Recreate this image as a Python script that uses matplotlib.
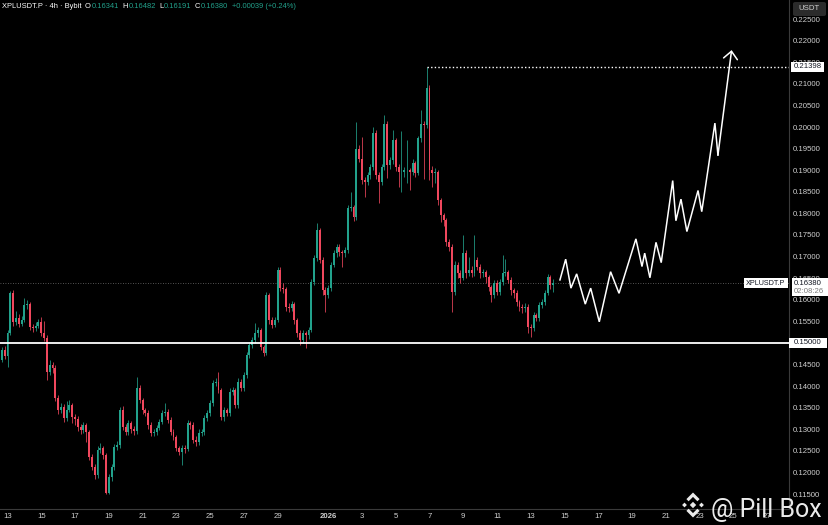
import numpy as np
import pandas as pd
import matplotlib
matplotlib.use("Agg")
import matplotlib.pyplot as plt
import matplotlib.dates as mdates
import matplotlib.transforms as mtransforms
from matplotlib.patches import Polygon, Rectangle, FancyBboxPatch

# ---------------- data ----------------
symbol = "XPLUSDT.P"
first_open = 0.1507
last_bar_time = "2026-01-14 08:00"
bar_freq = "4h"

closes = [
    0.1461, 0.1484, 0.1470, 0.1523, 0.1616, 0.1549, 0.1558, 0.1545, 0.1553, 0.1588,
    0.1590, 0.1537, 0.1535, 0.1540, 0.1549, 0.1523, 0.1512, 0.1433, 0.1449, 0.1442,
    0.1373, 0.1345, 0.1352, 0.1327, 0.1345, 0.1357, 0.1329, 0.1324, 0.1306, 0.1299,
    0.1310, 0.1294, 0.1237, 0.1214, 0.1195, 0.1253, 0.1257, 0.1240, 0.1153, 0.1190,
    0.1214, 0.1260, 0.1264, 0.1345, 0.1306, 0.1294, 0.1315, 0.1300, 0.1296, 0.1396,
    0.1368, 0.1345, 0.1338, 0.1311, 0.1292, 0.1294, 0.1304, 0.1318, 0.1338, 0.1341,
    0.1322, 0.1294, 0.1283, 0.1257, 0.1248, 0.1257, 0.1255, 0.1315, 0.1311, 0.1276,
    0.1271, 0.1292, 0.1294, 0.1327, 0.1338, 0.1361, 0.1408, 0.1410, 0.1391, 0.1329,
    0.1345, 0.1338, 0.1387, 0.1391, 0.1357, 0.1410, 0.1396, 0.1426, 0.1472, 0.1495,
    0.1507, 0.1523, 0.1530, 0.1491, 0.1477, 0.1611, 0.1553, 0.1542, 0.1553, 0.1669,
    0.1627, 0.1625, 0.1583, 0.1581, 0.1590, 0.1553, 0.1523, 0.1507, 0.1523, 0.1518,
    0.1530, 0.1641, 0.1696, 0.1761, 0.1692, 0.1622, 0.1611, 0.1627, 0.1680, 0.1708,
    0.1722, 0.1710, 0.1708, 0.1715, 0.1812, 0.1814, 0.1791, 0.1950, 0.1927, 0.1877,
    0.1872, 0.1888, 0.1907, 0.1985, 0.1888, 0.1872, 0.1907, 0.2008, 0.1911, 0.1923,
    0.1969, 0.1907, 0.1895, 0.1895, 0.1900, 0.1900, 0.1895, 0.1916,
    0.1893, 0.1974, 0.2008, 0.2004, 0.2091, 0.1900, 0.1893, 0.1895, 0.1830, 0.1796,
    0.1784, 0.1733, 0.1722, 0.1618, 0.1680, 0.1662, 0.1650, 0.1708, 0.1662, 0.1669,
    0.1662, 0.1692, 0.1676, 0.1661, 0.1664, 0.1652, 0.1629, 0.1611, 0.1639, 0.1618,
    0.1641, 0.1662, 0.1664, 0.1646, 0.1622, 0.1616, 0.1595, 0.1583, 0.1581, 0.1584,
    0.1537, 0.1535, 0.1565, 0.1558, 0.1588, 0.1595, 0.1616, 0.1652, 0.1634, 0.1638,
]

highs = [
    0.1515, 0.1490, 0.1492, 0.1530, 0.1620, 0.1622, 0.1575, 0.1566, 0.1562, 0.1604,
    0.1600, 0.1596, 0.1545, 0.1548, 0.1556, 0.1560, 0.1552, 0.1518, 0.1460, 0.1455,
    0.1448, 0.1380, 0.1362, 0.1358, 0.1366, 0.1368, 0.1362, 0.1336, 0.1330, 0.1312,
    0.1318, 0.1315, 0.1298, 0.1242, 0.1220, 0.1262, 0.1268, 0.1262, 0.1246, 0.1196,
    0.1220, 0.1266, 0.1272, 0.1352, 0.1355, 0.1312, 0.1322, 0.1320, 0.1308, 0.1421,
    0.1402, 0.1372, 0.1350, 0.1345, 0.1316, 0.1300, 0.1310, 0.1325, 0.1345, 0.1361,
    0.1348, 0.1328, 0.1300, 0.1288, 0.1262, 0.1264, 0.1265, 0.1322, 0.1320, 0.1316,
    0.1284, 0.1300, 0.1302, 0.1334, 0.1345, 0.1368, 0.1415, 0.1420, 0.1433, 0.1396,
    0.1352, 0.1350, 0.1395, 0.1398, 0.1396, 0.1418, 0.1416, 0.1432, 0.1480, 0.1502,
    0.1515, 0.1546, 0.1538, 0.1535, 0.1496, 0.1618, 0.1615, 0.1560, 0.1560, 0.1676,
    0.1675, 0.1640, 0.1630, 0.1592, 0.1598, 0.1595, 0.1558, 0.1530, 0.1530, 0.1528,
    0.1538, 0.1648, 0.1703, 0.1777, 0.1766, 0.1698, 0.1630, 0.1635, 0.1688, 0.1715,
    0.1730, 0.1728, 0.1716, 0.1722, 0.1820, 0.1849, 0.1820, 0.2011, 0.1958, 0.1976,
    0.1885, 0.1896, 0.1915, 0.1999, 0.1992, 0.1895, 0.1915, 0.2027, 0.2015, 0.1930,
    0.1992, 0.1975, 0.1915, 0.1990, 0.1908, 0.1970, 0.1906, 0.1925,
    0.1922, 0.1980, 0.2040, 0.2015, 0.21398, 0.2098, 0.1910, 0.1905, 0.1900, 0.1836,
    0.1802, 0.1790, 0.1740, 0.1728, 0.1690, 0.1688, 0.1670, 0.1749, 0.1715, 0.1700,
    0.1678, 0.1749, 0.1700, 0.1682, 0.1672, 0.1670, 0.1658, 0.1635, 0.1645, 0.1645,
    0.1648, 0.1703, 0.1695, 0.1670, 0.1652, 0.1628, 0.1622, 0.1600, 0.1590, 0.1592,
    0.1590, 0.1545, 0.1572, 0.1570, 0.1595, 0.1602, 0.1622, 0.1660, 0.1658, 0.16482,
]

lows = [
    0.1452, 0.1455, 0.1462, 0.1445, 0.1518, 0.1540, 0.1542, 0.1538, 0.1540, 0.1548,
    0.1578, 0.1530, 0.1526, 0.1528, 0.1534, 0.1516, 0.1505, 0.1415, 0.1425, 0.1430,
    0.1365, 0.1336, 0.1338, 0.1318, 0.1320, 0.1340, 0.1315, 0.1310, 0.1296, 0.1290,
    0.1292, 0.1270, 0.1228, 0.1205, 0.1185, 0.1188, 0.1245, 0.1232, 0.1150, 0.1150,
    0.1180, 0.1205, 0.1252, 0.1258, 0.1298, 0.1286, 0.1288, 0.1292, 0.1288, 0.1290,
    0.1360, 0.1335, 0.1330, 0.1302, 0.1284, 0.1285, 0.1288, 0.1298, 0.1312, 0.1330,
    0.1315, 0.1288, 0.1275, 0.1250, 0.1240, 0.1218, 0.1246, 0.1250, 0.1302, 0.1268,
    0.1262, 0.1265, 0.1285, 0.1288, 0.1320, 0.1332, 0.1355, 0.1400, 0.1385, 0.1322,
    0.1320, 0.1330, 0.1332, 0.1380, 0.1350, 0.1350, 0.1388, 0.1390, 0.1420, 0.1465,
    0.1488, 0.1500, 0.1515, 0.1484, 0.1470, 0.1472, 0.1545, 0.1535, 0.1536, 0.1548,
    0.1620, 0.1615, 0.1575, 0.1572, 0.1575, 0.1545, 0.1515, 0.1495, 0.1500, 0.1489,
    0.1510, 0.1525, 0.1635, 0.1690, 0.1685, 0.1612, 0.1572, 0.1605, 0.1620, 0.1675,
    0.1700, 0.1702, 0.1676, 0.1700, 0.1708, 0.1805, 0.1782, 0.1785, 0.1918, 0.1868,
    0.1837, 0.1865, 0.1880, 0.1900, 0.1880, 0.1823, 0.1865, 0.1900, 0.1881, 0.1902,
    0.1915, 0.1898, 0.1862, 0.1849, 0.1885, 0.1870, 0.1855, 0.1888,
    0.1885, 0.1888, 0.1965, 0.1880, 0.1998, 0.1877, 0.1860, 0.1870, 0.1820, 0.1780,
    0.1770, 0.1725, 0.1712, 0.1572, 0.1610, 0.1650, 0.1640, 0.1645, 0.1650, 0.1655,
    0.1652, 0.1655, 0.1668, 0.1650, 0.1652, 0.1640, 0.1620, 0.1595, 0.1605, 0.1610,
    0.1612, 0.1635, 0.1655, 0.1638, 0.1612, 0.1605, 0.1585, 0.1575, 0.1570, 0.1572,
    0.1523, 0.1514, 0.1528, 0.1550, 0.1550, 0.1580, 0.1588, 0.1610, 0.1625, 0.16191,
]

# hand-drawn projection (days after 2025-12-13, price)
path_day = [32.73, 33.07, 33.38, 33.72, 34.23, 34.55, 35.06, 35.73, 36.23, 37.23,
            37.59, 37.75, 38.06, 38.42, 38.73, 39.41, 39.60, 39.90, 40.25, 40.91,
            41.13, 41.91, 42.09, 42.90]
path_price = [0.1646, 0.1694, 0.1627, 0.1660, 0.1590, 0.1627, 0.1549, 0.1665, 0.1615, 0.1741,
              0.1677, 0.1708, 0.1651, 0.1733, 0.1686, 0.1876, 0.1783, 0.1833, 0.1758, 0.1853,
              0.1804, 0.2009, 0.1935, 0.2178]
path_origin = "2025-12-13"

support_level = 0.15
last_price = 0.16380
countdown = "02:08:26"

y_ticks = [0.115, 0.120, 0.125, 0.130, 0.135, 0.140, 0.145, 0.150, 0.155, 0.160, 0.165,
           0.170, 0.175, 0.180, 0.185, 0.190, 0.195, 0.200, 0.205, 0.210, 0.215, 0.220, 0.225]
y_tick_labels = ["0.11500", "0.12000", "0.12500", "0.13000", "0.13500", "0.14000", "0.14500",
                 "0.15000", "0.15500", "0.16000", "0.16500", "0.17000", "0.17500", "0.18000",
                 "0.18500", "0.19000", "0.19500", "0.20000", "0.20500", "0.21000", "0.21500",
                 "0.22000", "0.22500"]

date_ticks = ["2025-12-13", "2025-12-15", "2025-12-17", "2025-12-19", "2025-12-21", "2025-12-23",
              "2025-12-25", "2025-12-27", "2025-12-29", "2026-01-01", "2026-01-03", "2026-01-05",
              "2026-01-07", "2026-01-09", "2026-01-11", "2026-01-13", "2026-01-15", "2026-01-17",
              "2026-01-19", "2026-01-21", "2026-01-23", "2026-01-25", "2026-01-27"]
date_labels = ["13", "15", "17", "19", "21", "23", "25", "27", "29", "2026", "3", "5", "7", "9",
               "11", "13", "15", "17", "19", "21", "23", "25", "27"]
x_range = ("2025-12-12 13:20", "2026-01-28 07:12")
y_range = (0.11157, 0.22940)

header_parts = [("XPLUSDT.P · 4h · Bybit", "w"), ("O", "w"), ("0.16341", "g"), ("H", "w"),
                ("0.16482", "g"), ("L", "w"), ("0.16191", "g"), ("C", "w"), ("0.16380", "g"),
                ("+0.00039 (+0.24%)", "g")]
watermark = "@ Pill Box"

# ---------------- style ----------------
UP = "#22a28c"
DOWN = "#f0475d"
BG = "#000000"
AX_TXT = "#cfcfcf"
DARK = "#131722"
W, H = 829, 525
plt.rcParams["font.family"] = ["Liberation Sans", "DejaVu Sans"]
FS = 5.6

fig = plt.figure(figsize=(W / 100, H / 100), dpi=100, facecolor=BG)
ax_left, ax_bottom, ax_w, ax_h = 0, 16, 789, 509
ax = fig.add_axes([ax_left / W, ax_bottom / H, ax_w / W, ax_h / H], facecolor=BG)

def fpx(x, y):
    return x / W, 1 - y / H

# candles
closes_a = np.array(closes)
opens_a = np.r_[first_open, closes_a[:-1]]
highs_a = np.array(highs)
lows_a = np.array(lows)
times = pd.date_range(end=last_bar_time, periods=len(closes_a), freq=bar_freq)
xs = mdates.date2num(times.to_pydatetime())
up = closes_a >= opens_a
cols = np.where(up, UP, DOWN)
ax.vlines(xs, lows_a, highs_a, colors=cols, lw=0.55, zorder=2)
body = np.maximum(np.abs(closes_a - opens_a), 0.00012)
ax.bar(xs, body, bottom=np.minimum(opens_a, closes_a), width=0.115, color=cols,
       linewidth=0, zorder=3)

ax.set_xlim(mdates.date2num(pd.Timestamp(x_range[0])), mdates.date2num(pd.Timestamp(x_range[1])))
ax.set_ylim(*y_range)

# levels
ax.axhline(support_level, color="white", lw=1.3, zorder=4)
ax.axhline(last_price, color="#707070", lw=0.6, ls=(0, (1, 2)), zorder=1)
i_top = int(np.argmax(highs_a))
ax.hlines(highs_a[i_top], xs[i_top], ax.get_xlim()[1], colors="white", lw=1.0,
          linestyles=(0, (1, 1.6)), zorder=4)

# projection path
base = mdates.date2num(pd.Timestamp(path_origin))
pxs = base + np.array(path_day)
pys = np.array(path_price)
ax.plot(pxs[:-1], pys[:-1], color="white", lw=1.1, solid_joinstyle="miter", zorder=5)
ax.annotate("", xy=(pxs[-1], pys[-1]), xytext=(pxs[-2], pys[-2]),
            arrowprops=dict(arrowstyle="->,head_length=0.55,head_width=0.5", color="white",
                            lw=1.1, shrinkA=0, shrinkB=0), zorder=5)

# axes styling
for s in ["top", "left"]:
    ax.spines[s].set_visible(False)
for s in ["right", "bottom"]:
    ax.spines[s].set_color("#3a3a3a")
    ax.spines[s].set_linewidth(0.8)
ax.yaxis.tick_right()
ax.set_yticks(y_ticks)
ax.set_yticklabels(y_tick_labels)
ax.tick_params(axis="y", length=0, pad=3, labelsize=FS, labelcolor=AX_TXT)
ax.set_xticks(mdates.date2num(pd.to_datetime(date_ticks).to_pydatetime()))
ax.set_xticklabels(date_labels)
ax.tick_params(axis="x", length=0, pad=3, labelsize=FS, labelcolor=AX_TXT)
for lab in ax.get_xticklabels():
    if lab.get_text() == "2026":
        lab.set_fontweight("bold")

# right-axis price labels
blend = mtransforms.blended_transform_factory(ax.transAxes, ax.transData)
ppu = ax_h / (y_range[1] - y_range[0])  # pixels per price unit

def price_box(x0, x1, yv, hpx, fc, yshift=0.0):
    h = hpx / ppu
    r = Rectangle((x0 / ax_w, yv - h / 2 - yshift / ppu), (x1 - x0) / ax_w, h, transform=blend,
                  facecolor=fc, edgecolor="none", clip_on=False, zorder=20)
    ax.add_patch(r)

def box_text(txt, x0, yv, color, dy=0.0, ha="left", fs=FS):
    ax.annotate(txt, xy=(x0 / ax_w, yv), xycoords=blend, xytext=(0, -dy),
                textcoords="offset pixels", ha=ha, va="center", fontsize=fs, color=color,
                annotation_clip=False, zorder=21)

ath = float(highs_a[i_top])
price_box(791, 824, ath, 10, "white")
box_text(f"{ath:.5f}", 793.5, ath, DARK)

price_box(789, 827, support_level, 10, "white")
box_text(f"{support_level:.5f}", 793.5, support_level, DARK)

price_box(792, 828, last_price, 18, "white", yshift=3.5)
box_text(f"{last_price:.5f}", 794, last_price, DARK)
box_text(countdown, 794, last_price, "#7a7a7a", dy=8.5)

price_box(744, 788, last_price, 10, "white")
box_text(symbol, 766, last_price, DARK, ha="center", fs=5.2)

# USDT box
ub = FancyBboxPatch(fpx(793, 16), 33 / W, 14 / H, boxstyle="round,pad=0,rounding_size=0.003",
                    transform=fig.transFigure, facecolor="#2b2b2b", edgecolor="none", zorder=30)
fig.add_artist(ub)
fig.text(*fpx(809.5, 9), "USDT", fontsize=FS, color=AX_TXT, ha="center", va="center", zorder=31)

# header (pieces chained by measured width)
renderer = fig.canvas.get_renderer()
hx = 2.0
for txt, c in header_parts:
    t = fig.text(*fpx(hx, 7), txt, fontsize=5.4, color="white" if c == "w" else UP,
                 ha="left", va="center", zorder=31)
    bb = t.get_window_extent(renderer)
    hx = bb.x1 + (0.6 if txt in ("O", "H", "L", "C") else 3.5)

# watermark with logo
fig.text(*fpx(711, 510), watermark, fontsize=18, color="white", alpha=0.92,
         family=["Roboto", "DejaVu Sans"], ha="left", va="center", zorder=40)
cx, cy = 693, 505
def logo_poly(pts):
    verts = [fpx(cx + px, cy - py) for px, py in pts]
    fig.add_artist(Polygon(verts, closed=True, transform=fig.transFigure, facecolor="white",
                           edgecolor="none", alpha=0.92, zorder=40))
logo_poly([(0, 3.2), (3.2, 0), (0, -3.2), (-3.2, 0)])
logo_poly([(-8.5, 2.4), (-6.1, 0), (-8.5, -2.4), (-10.9, 0)])
logo_poly([(8.5, 2.4), (10.9, 0), (8.5, -2.4), (6.1, 0)])
logo_poly([(0, 12.5), (6.6, 5.9), (4.4, 3.7), (0, 8.1), (-4.4, 3.7), (-6.6, 5.9)])
logo_poly([(0, -12.5), (6.6, -5.9), (4.4, -3.7), (0, -8.1), (-4.4, -3.7), (-6.6, -5.9)])

fig.savefig("out.png", dpi=100, facecolor=BG)
